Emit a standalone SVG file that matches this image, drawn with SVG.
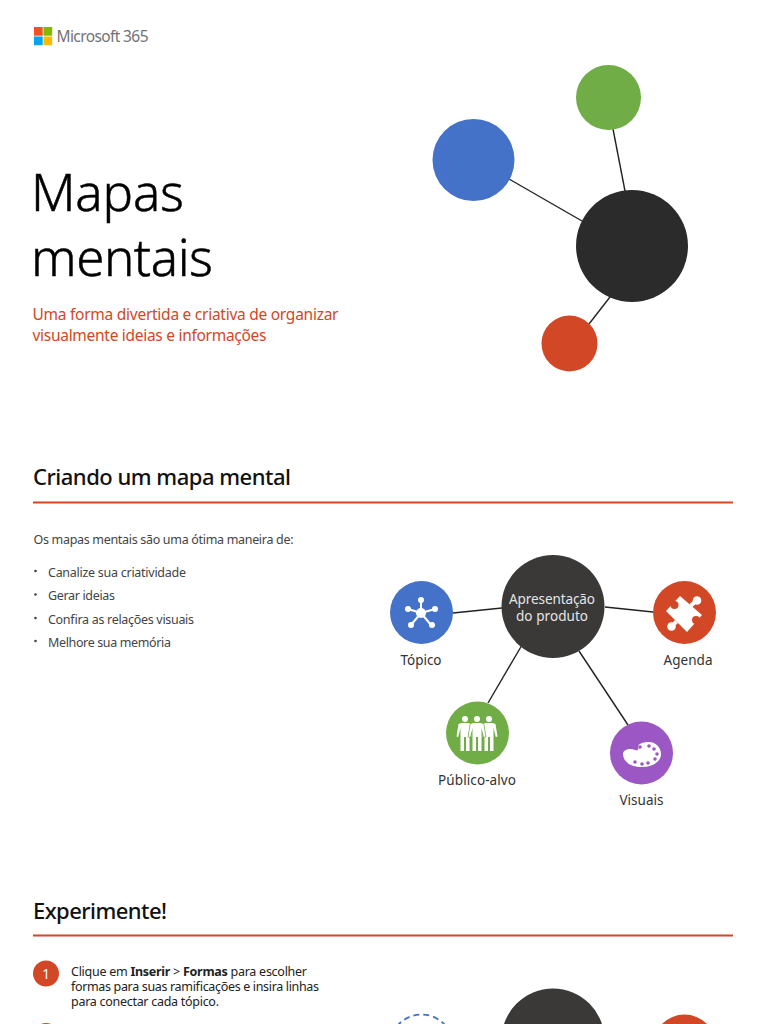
<svg xmlns="http://www.w3.org/2000/svg" width="768" height="1024" viewBox="0 0 768 1024">
<style>
text{font-family:"Noto Sans","Open Sans","Liberation Sans",sans-serif}
.b{font-size:12.5px;fill:#444}
.n{font-size:13.5px;fill:#333}
.h{font-size:22px;fill:#111;font-weight:500}
.t{font-size:51px;fill:#000;font-weight:300;stroke:#000;stroke-width:.5}
.c{stroke:#222;stroke-width:1.4;fill:none}
.r{stroke:#d24726;stroke-width:2}
.w{fill:#fff}
.wl{stroke:#fff;stroke-width:2;fill:none}
</style>
<defs>
<path id="person" fill="#fff" stroke="#70ad47" stroke-width="1.500" paint-order="stroke" d="M-3.500 0H3.500L6.500 1L8.500 13.500L6.800 14L4.500 5V28H1V14H-1V28H-4.500V5L-6.800 14L-8.500 13.500L-6.500 1Z"/>
</defs>
<rect width="768" height="1024" fill="#fff"/>
<g id="logo">
<rect x="34" y="27" width="8.700" height="8.700" fill="#f25022"/><rect x="43.500" y="27" width="8.700" height="8.700" fill="#7fba00"/>
<rect x="34" y="36.500" width="8.700" height="8.700" fill="#00a4ef"/><rect x="43.500" y="36.500" width="8.700" height="8.700" fill="#ffb900"/>
<text x="56.500" y="41.500" font-size="15.500" fill="#737373" textLength="92">Microsoft 365</text>
</g>
<g id="title">
<text class="t" x="31" y="211" textLength="153">Mapas</text>
<text class="t" x="31" y="276" textLength="182">mentais</text>
<text x="32.500" y="320" font-size="15.500" fill="#d24726" textLength="306">Uma forma divertida e criativa de organizar</text>
<text x="32.500" y="341" font-size="15.500" fill="#d24726" textLength="234">visualmente ideias e informações</text>
</g>
<g id="connectors">
<line class="c" x1="509" y1="179" x2="582" y2="221"/>
<line class="c" x1="613" y1="129" x2="625" y2="191"/>
<line class="c" x1="589" y1="324" x2="610" y2="297"/>
<line class="c" x1="453" y1="613" x2="502" y2="608"/>
<line class="c" x1="605" y1="607" x2="653" y2="612"/>
<line class="c" x1="488" y1="703" x2="522" y2="645"/>
<line class="c" x1="628" y1="725" x2="579" y2="651"/>
</g>
<g id="hero-blue"><circle cx="473.500" cy="160" r="41" fill="#4472c9"/></g>
<g id="hero-green"><circle cx="608.500" cy="97.500" r="32.500" fill="#70ad47"/></g>
<g id="hero-dark"><circle cx="632" cy="246" r="56" fill="#2b2b2b"/></g>
<g id="hero-red"><circle cx="569.500" cy="343.500" r="28" fill="#d24726"/></g>
<g id="section1">
<text class="h" x="33" y="485" textLength="258">Criando um mapa mental</text>
<line class="r" x1="33" y1="502.500" x2="733" y2="502.500"/>
<text class="b" x="33.500" y="544" textLength="260">Os mapas mentais são uma ótima maneira de:</text>
<circle cx="35.500" cy="571" r="1.300" fill="#444"/><text class="b" x="48" y="577" textLength="138">Canalize sua criatividade</text>
<circle cx="35.500" cy="594.500" r="1.300" fill="#444"/><text class="b" x="48" y="600" textLength="67">Gerar ideias</text>
<circle cx="35.500" cy="618" r="1.300" fill="#444"/><text class="b" x="48" y="624" textLength="146">Confira as relações visuais</text>
<circle cx="35.500" cy="641" r="1.300" fill="#444"/><text class="b" x="48" y="647" textLength="123">Melhore sua memória</text>
</g>
<g id="node-center"><circle cx="553" cy="606.500" r="51.500" fill="#3b3938"/>
<text x="552" y="604" font-size="13.500" fill="#e4e4e4" text-anchor="middle" textLength="86">Apresentação</text>
<text x="552" y="621" font-size="13.500" fill="#e4e4e4" text-anchor="middle" textLength="72">do produto</text></g>
<g id="node-topico"><circle cx="421.500" cy="612.500" r="31.500" fill="#4472c9"/>
<g class="wl"><path d="M421 613V600M421 613L408 609M421 613L435 609M421 613L411 625M421 613L431 625"/></g>
<g class="w"><circle cx="421" cy="613" r="5"/><circle cx="421" cy="600" r="3"/><circle cx="408" cy="609" r="3"/><circle cx="435" cy="609" r="3"/><circle cx="411" cy="625" r="3"/><circle cx="432" cy="625" r="3"/></g>
<text class="n" x="421" y="664.500" text-anchor="middle" textLength="41">Tópico</text></g>
<g id="node-agenda"><circle cx="684.500" cy="612.500" r="31.500" fill="#d24726"/>
<path class="w" d="M666 611L680 596L702 615L687 632Z"/>
<line x1="691" y1="605.500" x2="696.500" y2="600.500" stroke="#fff" stroke-width="4"/>
<line x1="676.500" y1="621.500" x2="671.500" y2="626.500" stroke="#fff" stroke-width="4"/>
<circle class="w" cx="697" cy="600.500" r="4.300"/>
<circle class="w" cx="671.500" cy="626.500" r="4.300"/>
<circle cx="674.500" cy="605" r="4" fill="#d24726"/>
<circle cx="696" cy="620" r="4" fill="#d24726"/>
<text class="n" x="688" y="664.500" text-anchor="middle" textLength="49">Agenda</text></g>
<g id="node-publico"><circle cx="477.500" cy="733" r="31.500" fill="#70ad47"/>
<g class="w"><circle cx="465" cy="719" r="3"/><circle cx="477" cy="719" r="3"/><circle cx="489" cy="719" r="3"/></g>
<use href="#person" x="465" y="723"/><use href="#person" x="489" y="723"/><use href="#person" x="477" y="723"/>
<text class="n" x="477" y="785" text-anchor="middle" textLength="78">Público-alvo</text></g>
<g id="node-visuais"><circle cx="641.500" cy="753" r="31.500" fill="#9b57c4"/>
<path class="w" d="M623 754C623 749 631 748 635 750C638 751 639 749 638 747C638 743 645 742 649 742C656 742 661 748 661 754C661 762 652 767 642 767C631 767 623 762 623 754Z"/>
<g fill="#9b57c4"><circle cx="640" cy="747" r="1.800"/><circle cx="649" cy="746" r="1.800"/><circle cx="654" cy="749" r="1.800"/><circle cx="657" cy="754" r="1.800"/><circle cx="655" cy="759" r="1.800"/><circle cx="648" cy="763" r="1.800"/><circle cx="642" cy="764" r="1.800"/><circle cx="635" cy="762" r="1.800"/></g>
<text class="n" x="641.500" y="805" text-anchor="middle" textLength="44">Visuais</text></g>
<g id="section2">
<text class="h" x="33" y="919" textLength="134">Experimente!</text>
<line class="r" x1="33" y1="935.500" x2="733" y2="935.500"/>
<circle cx="46" cy="973.500" r="13" fill="#d24726"/>
<text x="46" y="978.500" font-size="13.500" fill="#fff" text-anchor="middle">1</text>
<text class="b" x="71" y="976" style="fill:#222" textLength="236">Clique em <tspan font-weight="700">Inserir</tspan> &gt; <tspan font-weight="700">Formas</tspan> para escolher</text>
<text class="b" x="71" y="991" style="fill:#222" textLength="248">formas para suas ramificações e insira linhas</text>
<text class="b" x="71" y="1006" style="fill:#222" textLength="148">para conectar cada tópico.</text>
<circle cx="46" cy="1036" r="13" fill="#d24726"/>
</g>
<g id="try-dashed"><circle cx="421.500" cy="1046" r="31.500" fill="none" stroke="#4472c9" stroke-width="1.800" stroke-dasharray="6 4"/></g>
<g id="try-center"><circle cx="553" cy="1040" r="51.500" fill="#3b3938"/></g>
<g id="try-red"><circle cx="684.500" cy="1046" r="31.500" fill="#d24726"/></g>
</svg>
